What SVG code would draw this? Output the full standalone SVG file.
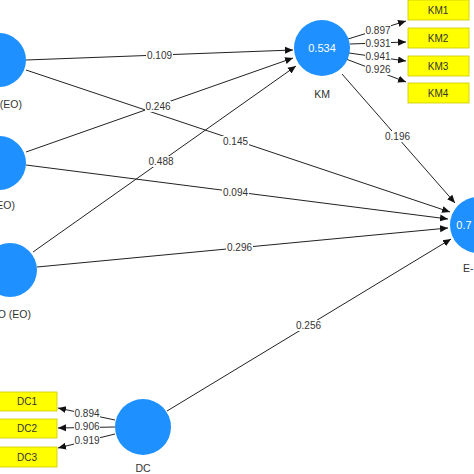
<svg xmlns="http://www.w3.org/2000/svg" width="474" height="474" viewBox="0 0 474 474">
<style>
.bg{fill:#ffffff}
.lv{fill:#1E90FF}
.mv{fill:#FFFF00;stroke:#C8C800;stroke-width:0.8}
.ln{stroke:#222;stroke-width:1;fill:none;marker-end:url(#ah)}
.lb{fill:#fff}
.t{font-family:"Liberation Sans",Arial,sans-serif;font-size:10px;fill:#333}
.tc{text-anchor:middle}
.w{font-family:"Liberation Sans",Arial,sans-serif;font-size:11px;fill:#fff;text-anchor:middle}
.nl{font-family:"Liberation Sans",Arial,sans-serif;font-size:10.5px;fill:#333}
</style>
<defs>
<marker id="ah" markerWidth="9" markerHeight="9" refX="8" refY="4.5" orient="auto" markerUnits="userSpaceOnUse">
<path d="M0,1 L8,4.5 L0,8 Z" fill="#111"/>
</marker>
</defs>
<rect class="bg" x="0" y="0" width="474" height="474"/>
<g id="connectors">
<line class="ln" x1="26" y1="60" x2="293" y2="50"/>
<line class="ln" x1="26" y1="70" x2="450" y2="212"/>
<line class="ln" x1="26" y1="152" x2="293" y2="58"/>
<line class="ln" x1="26" y1="165" x2="448" y2="219"/>
<line class="ln" x1="33" y1="252" x2="296" y2="66"/>
<line class="ln" x1="37" y1="267" x2="448" y2="228"/>
<line class="ln" x1="342" y1="74" x2="455" y2="203"/>
<line class="ln" x1="167" y1="411" x2="451" y2="239"/>
<line class="ln" x1="348" y1="39" x2="406" y2="21"/>
<line class="ln" x1="350" y1="44" x2="406" y2="42"/>
<line class="ln" x1="349" y1="53" x2="406" y2="61"/>
<line class="ln" x1="346" y1="59" x2="406" y2="82"/>
<line class="ln" x1="115" y1="420" x2="58" y2="408"/>
<line class="ln" x1="115" y1="427" x2="58" y2="428"/>
<line class="ln" x1="115" y1="434" x2="58" y2="448"/>
<g id="labels">
<rect class="lb" x="146" y="50" width="27" height="11"/><text class="t tc" x="159.5" y="59">0.109</text>
<rect class="lb" x="145" y="101" width="26" height="11"/><text class="t tc" x="158" y="110">0.246</text>
<rect class="lb" x="148" y="156" width="26" height="11"/><text class="t tc" x="161" y="165">0.488</text>
<rect class="lb" x="222" y="136" width="27" height="11"/><text class="t tc" x="235.5" y="145">0.145</text>
<rect class="lb" x="222" y="187" width="27" height="11"/><text class="t tc" x="235.5" y="196">0.094</text>
<rect class="lb" x="226" y="242" width="27" height="11"/><text class="t tc" x="239.5" y="251">0.296</text>
<rect class="lb" x="384" y="131" width="27" height="11"/><text class="t tc" x="397.5" y="140">0.196</text>
<rect class="lb" x="295" y="320" width="27" height="11"/><text class="t tc" x="308.5" y="329">0.256</text>
<rect class="lb" x="365" y="25" width="26" height="11"/><text class="t tc" x="378" y="34">0.897</text>
<rect class="lb" x="365" y="38" width="26" height="11"/><text class="t tc" x="378" y="47">0.931</text>
<rect class="lb" x="365" y="51" width="26" height="11"/><text class="t tc" x="378" y="60">0.941</text>
<rect class="lb" x="365" y="64" width="26" height="11"/><text class="t tc" x="378" y="73">0.926</text>
<rect class="lb" x="74" y="408" width="26" height="11"/><text class="t tc" x="87" y="417">0.894</text>
<rect class="lb" x="74" y="421" width="26" height="11"/><text class="t tc" x="87" y="430">0.906</text>
<rect class="lb" x="74" y="435" width="26" height="11"/><text class="t tc" x="87" y="444">0.919</text>
</g>
</g>
<g id="eo1"><circle class="lv" cx="-1" cy="60" r="27"/><text class="nl" x="22" y="108" text-anchor="end">(EO)</text></g>
<g id="eo2"><circle class="lv" cx="-1" cy="163" r="27"/><text class="nl" x="15" y="209" text-anchor="end">EO)</text></g>
<g id="eo3"><circle class="lv" cx="10" cy="270" r="27"/><text class="nl" x="31" y="318" text-anchor="end">DO (EO)</text></g>
<g id="km"><circle class="lv" cx="322" cy="48" r="28"/><text class="w" x="322" y="52">0.534</text><text class="nl tc" x="322" y="98">KM</text></g>
<g id="e"><circle class="lv" cx="478" cy="225" r="28"/><text class="w" x="464" y="229" text-anchor="start">0.7</text><text class="nl" x="463" y="272">E-</text></g>
<g id="dc"><circle class="lv" cx="143" cy="427" r="28"/><text class="nl tc" x="143" y="472">DC</text></g>
<g id="km1"><rect class="mv" x="408" y="0" width="61" height="20"/><text class="t tc" x="438" y="14">KM1</text></g>
<g id="km2"><rect class="mv" x="408" y="28" width="61" height="20"/><text class="t tc" x="438" y="42">KM2</text></g>
<g id="km3"><rect class="mv" x="408" y="56" width="61" height="20"/><text class="t tc" x="438" y="70">KM3</text></g>
<g id="km4"><rect class="mv" x="408" y="83" width="61" height="20"/><text class="t tc" x="438" y="97">KM4</text></g>
<g id="dc1"><rect class="mv" x="-3" y="392" width="60" height="19"/><text class="t tc" x="27" y="405">DC1</text></g>
<g id="dc2"><rect class="mv" x="-3" y="419" width="60" height="19"/><text class="t tc" x="27" y="432">DC2</text></g>
<g id="dc3"><rect class="mv" x="-3" y="447" width="60" height="20"/><text class="t tc" x="27" y="461">DC3</text></g>
</svg>
